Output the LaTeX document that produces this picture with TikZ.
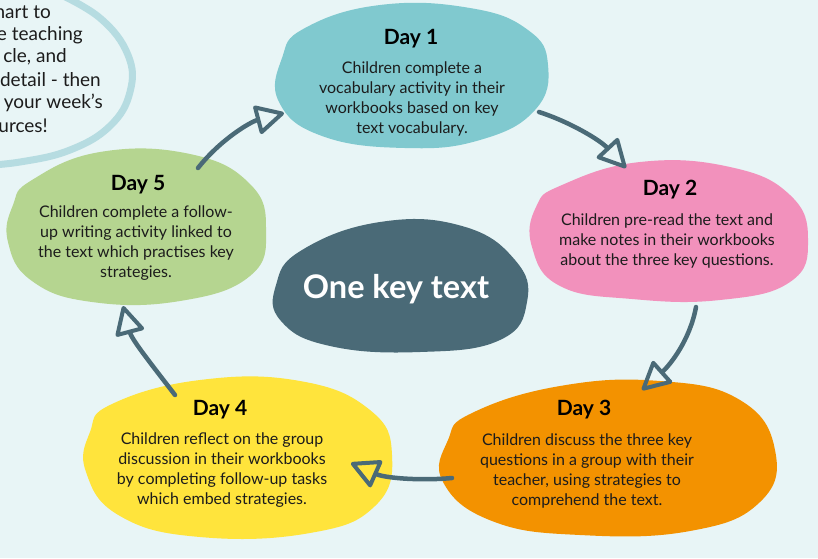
\documentclass[tikz,border=0pt]{standalone}
\usepackage{fontspec}
\setmainfont{Lato}
\usetikzlibrary{arrows.meta}
\definecolor{bgc}{HTML}{E8F5F6}
\definecolor{tealc}{HTML}{80C9CF}
\definecolor{pinkc}{HTML}{F291BC}
\definecolor{orangec}{HTML}{F39200}
\definecolor{yellowc}{HTML}{FFE43C}
\definecolor{greenc}{HTML}{B5D590}
\definecolor{slatec}{HTML}{4A6A77}
\definecolor{arcc}{HTML}{B6DCE1}
\definecolor{txtc}{HTML}{1C1C1C}
\tikzset{
  dayhead/.style={font=\bfseries\fontsize{21}{23}\selectfont, text=black, inner sep=0pt},
  daybody/.style={font=\fontsize{16}{20}\selectfont, text=txtc, align=center, inner sep=0pt},
  introtxt/.style={font=\fontsize{19}{23}\selectfont, text=txtc, anchor=east, inner sep=0pt},
  cyclearrow/.style={draw=slatec, line width=4.5pt, line cap=round,
     -{Triangle[open, length=31pt, width=31pt, line width=4pt, round]}},
}
\begin{document}
\begin{tikzpicture}[x=1pt,y=-1pt]
\useasboundingbox (0,0) rectangle (818,558);
\fill[bgc] (0,0) rectangle (818,558);
\begin{scope}
\clip (0,0) rectangle (818,558);
% intro arc
\draw[arcc, line width=7pt] plot[smooth, tension=0.7] coordinates {(55,-8) (100,18) (128,55) (130,92) (110,126) (70,150) (20,162) (-25,166)};
\node[introtxt] (i1) at (51,12) {hart to};
\node[introtxt] (i2) at (83,35) {e teaching};
\node[introtxt] (i3) at (67,57) {cle, and};
\node[introtxt] (i4) at (101,80) {detail - then};
\node[introtxt] (i5) at (103,103) {your week’s};
\node[introtxt] (i6) at (48,126) {urces!};
\end{scope}
% blobs
\fill[tealc] plot[smooth cycle, tension=0.75] coordinates {(305,28) (380,5) (470,8) (528,30) (548,65) (535,110) (480,140) (405,148) (322,136) (279,102) (282,58)};
\fill[pinkc] plot[smooth cycle, tension=0.75] coordinates {(562,185) (640,162) (730,167) (790,195) (808,240) (790,282) (720,300) (632,299) (560,286) (532,247) (536,207)};
\fill[orangec] plot[smooth cycle, tension=0.75] coordinates {(472,413) (560,386) (660,381) (740,400) (775,450) (760,502) (690,531) (580,535) (492,521) (443,482) (448,440)};
\fill[yellowc] plot[smooth cycle, tension=0.75] coordinates {(112,404) (200,380) (300,381) (370,410) (392,455) (375,506) (310,533) (200,537) (120,516) (86,472) (90,432)};
\fill[greenc] plot[smooth cycle, tension=0.75] coordinates {(32,180) (100,152) (190,154) (250,184) (266,230) (250,276) (180,301) (92,302) (32,281) (8,242) (13,205)};
\fill[slatec] plot[smooth cycle, tension=0.75] coordinates {(302,250) (380,222) (462,226) (515,260) (527,302) (500,340) (420,352) (330,346) (281,321) (276,285)};
% texts
\node[font=\bfseries\fontsize{32.5}{34}\selectfont, text=white, inner sep=0pt] (key) at (396,289) {One key text};
\node[dayhead] (h1) at (411,39) {Day 1};
\node[daybody] (b1) at (412,99) {Children complete a\\vocabulary activity in their\\workbooks based on key\\text vocabulary.};
\node[dayhead] (h2) at (670,190) {Day 2};
\node[daybody] (b2) at (667,241) {Children pre-read the text and\\make notes in their workbooks\\about the three key questions.};
\node[dayhead] (h3) at (584,410) {Day 3};
\node[daybody] (b3) at (587,471) {Children discuss the three key\\questions in a group with their\\teacher, using strategies to\\comprehend the text.};
\node[dayhead] (h4) at (220,410) {Day 4};
\node[daybody] (b4) at (222,470) {Children reflect on the group\\discussion in their workbooks\\by completing follow-up tasks\\which embed strategies.};
\node[dayhead] (h5) at (138,185) {Day 5};
\node[daybody] (b5) at (136,243) {Children complete a follow-\\up writing activity linked to\\the text which practises key\\strategies.};
% arrow ends
\coordinate (a1s) at (539,112); \coordinate (a1e) at (626,168);
\coordinate (a2s) at (696,307); \coordinate (a2e) at (642,390);
\coordinate (a3s) at (452,478); \coordinate (a3e) at (351,463);
\coordinate (a4s) at (175,395); \coordinate (a4e) at (123,306);
\coordinate (a5s) at (198,168); \coordinate (a5e) at (284,113);
\draw[cyclearrow] (a1s) .. controls (570,122) and (600,140) .. (a1e);
\draw[cyclearrow] (a2s) .. controls (690,340) and (670,365) .. (a2e);
\draw[cyclearrow] (a3s) .. controls (420,481) and (385,478) .. (a3e);
\draw[cyclearrow] (a4s) .. controls (152,365) and (132,340) .. (a4e);
\draw[cyclearrow] (a5s) .. controls (220,140) and (250,122) .. (a5e);
\end{tikzpicture}
\end{document}
